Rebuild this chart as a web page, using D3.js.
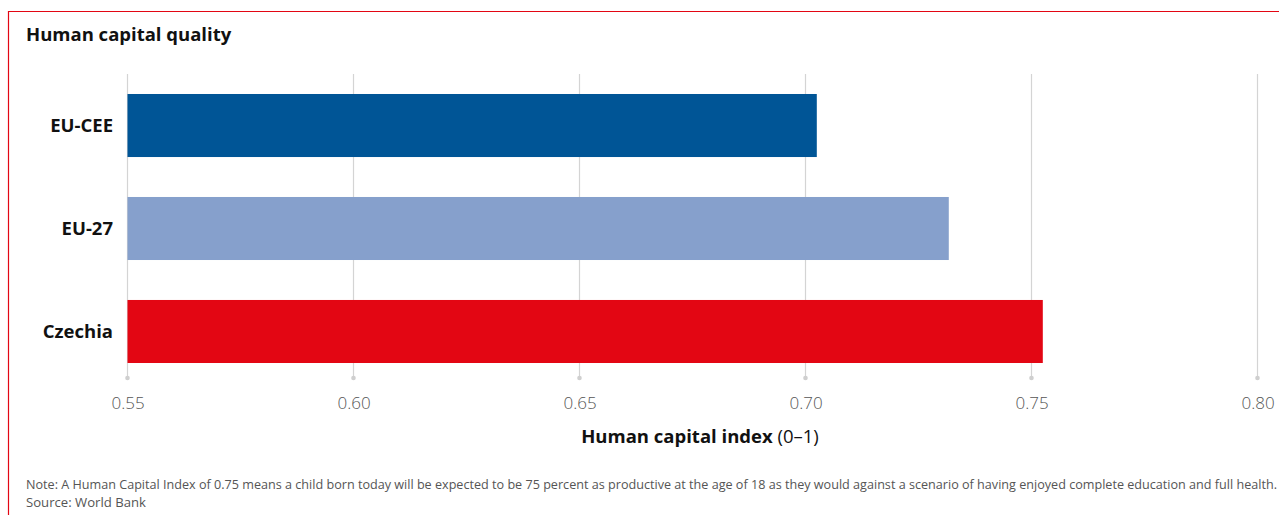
<!DOCTYPE html>
<html>
<head>
<meta charset="utf-8">
<script src="https://cdn.jsdelivr.net/npm/d3@7"></script>
<style>
  body { margin: 0; background: #fff; }
  svg { display: block; font-family: "Open Sans", "Noto Sans", sans-serif; }
</style>
</head>
<body>
<svg id="chart"></svg>
<script>
const categories = ['EU-CEE', 'EU-27', 'Czechia']
const values = [0.7025, 0.7317, 0.7525]
const colors = ['#005596', '#86a0cc', '#e30613']
const ticks = [0.55, 0.60, 0.65, 0.70, 0.75, 0.80]

const width = 1279
const height = 515

let svg = d3.select('#chart')
  .attr('width', width)
  .attr('height', height)

// red frame: top and left only
svg.append('line').attr('x1', 8).attr('x2', width).attr('y1', 11.5).attr('y2', 11.5)
  .attr('stroke', '#e30613').attr('stroke-width', 1.2)
svg.append('line').attr('x1', 8.5).attr('x2', 8.5).attr('y1', 11).attr('y2', height)
  .attr('stroke', '#e30613').attr('stroke-width', 1.2)

svg.append('text')
  .attr('x', 26).attr('y', 41)
  .attr('font-size', 18.5).attr('font-weight', 700).attr('fill', '#111')
  .text('Human capital quality')

let x = d3.scaleLinear().domain([0.55, 0.80]).range([127.5, 1257.5])
let y = d3.scaleBand().domain(categories).range([73.4, 383.6]).paddingInner(0.388).paddingOuter(0.2)

// grid lines with dot at bottom
let grid = svg.append('g')
grid.selectAll('line').data(ticks).enter().append('line')
  .attr('x1', d => x(d)).attr('x2', d => x(d))
  .attr('y1', 74).attr('y2', 378)
  .attr('stroke', '#d4d4d4').attr('stroke-width', 1.2)
grid.selectAll('circle').data(ticks).enter().append('circle')
  .attr('cx', d => x(d)).attr('cy', 378).attr('r', 2.3)
  .attr('fill', '#cfcfcf')

// bars
svg.append('g').selectAll('rect').data(categories).enter().append('rect')
  .attr('x', x(0.55))
  .attr('y', d => y(d))
  .attr('width', (d, i) => x(values[i]) - x(0.55))
  .attr('height', y.bandwidth())
  .attr('fill', (d, i) => colors[i])

// category labels
svg.append('g').selectAll('text').data(categories).enter().append('text')
  .attr('x', 113)
  .attr('y', d => y(d) + y.bandwidth() / 2 + 6.5)
  .attr('text-anchor', 'end')
  .attr('font-size', 18.5).attr('font-weight', 700).attr('fill', '#111')
  .text(d => d)

// tick labels
let axis = d3.axisBottom(x).tickValues(ticks).tickFormat(d3.format('.2f')).tickSize(0).tickPadding(0)
let axisG = svg.append('g').attr('transform', 'translate(0,397)').call(axis)
axisG.select('.domain').remove()
axisG.selectAll('text')
  .attr('font-size', 17).attr('font-weight', 300).attr('fill', '#555')
  .attr('font-family', '"Open Sans", sans-serif')

// axis title
let at = svg.append('text')
  .attr('x', 700).attr('y', 443)
  .attr('text-anchor', 'middle')
  .attr('font-size', 18.5).attr('fill', '#111')
at.append('tspan').attr('font-weight', 700).text('Human capital index ')
at.append('tspan').attr('font-weight', 400).text('(0\u20131)')

// note and source
svg.append('text')
  .attr('x', 26).attr('y', 489)
  .attr('font-size', 12.5).attr('fill', '#555')
  .attr('textLength', 1251).attr('lengthAdjust', 'spacingAndGlyphs')
  .text('Note: A Human Capital Index of 0.75 means a child born today will be expected to be 75 percent as productive at the age of 18 as they would against a scenario of having enjoyed complete education and full health.')
svg.append('text')
  .attr('x', 26).attr('y', 507)
  .attr('font-size', 12.5).attr('fill', '#555')
  .attr('textLength', 120).attr('lengthAdjust', 'spacingAndGlyphs')
  .text('Source: World Bank')
</script>
</body>
</html>
